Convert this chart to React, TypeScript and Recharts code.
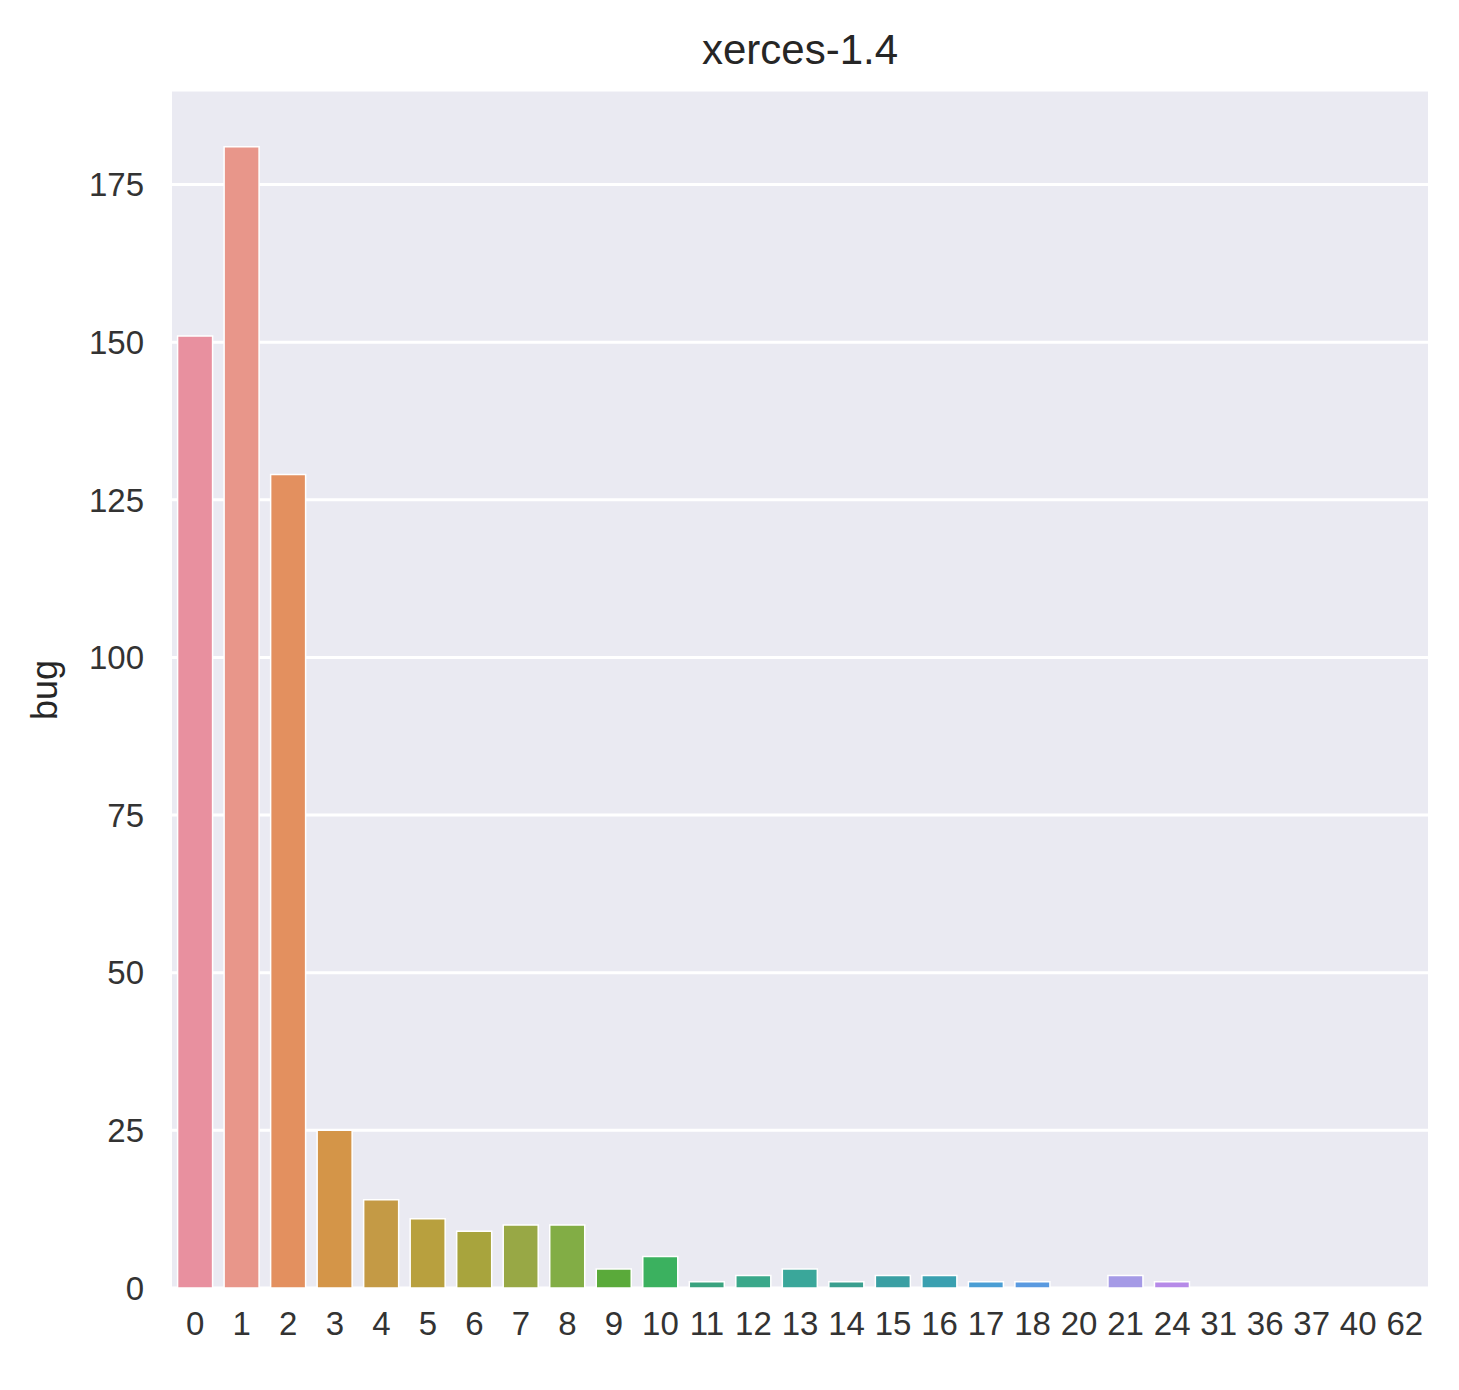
import { BarChart, Bar, Cell, CartesianGrid, XAxis, YAxis } from 'recharts';

const categories = ['0', '1', '2', '3', '4', '5', '6', '7', '8', '9', '10', '11', '12', '13', '14', '15', '16', '17', '18', '20', '21', '24', '31', '36', '37', '40', '62'];
const bugCounts = [151, 181, 129, 25, 14, 11, 9, 10, 10, 3, 5, 1, 2, 3, 1, 2, 2, 1, 1, 0, 2, 1, 0, 0, 0, 0, 0];
const yTicks = [0, 25, 50, 75, 100, 125, 150, 175];

// husl-like palette, desaturated like seaborn bars
const palette = [
    '#e8909f', '#e8968a', '#e3905f', '#d49548', '#c49a45', '#b8a03e', '#a8a43d', '#98a845', '#82ad45',
    '#5aaa3a', '#3bb15f', '#3aa37f', '#3aa88a', '#3aa79a', '#3a9f8f', '#3a9fa3', '#3aa0b0', '#4a9ed4',
    '#5a9ae0', '#7f97e0', '#a59ae6', '#b68ae8', '#cf84dc', '#dc80c8', '#e286b6', '#e58aa8', '#e88d9f'
];

const data = categories.map((c, i) => ({ label: c, bug: bugCounts[i] }));

const font = '"Liberation Sans", Arial, sans-serif';

export default function App() {
    return (
        <div style={{ position: 'absolute', left: 0, top: 0, width: 1459, height: 1390, background: '#fff', fontFamily: font }}>
            <div style={{ position: 'absolute', left: 600, width: 400, top: 26, textAlign: 'center', fontSize: 42, color: '#262626' }}>
                xerces-1.4
            </div>
            <div style={{ position: 'absolute', left: 45, top: 690, transform: 'translate(-50%, -50%) rotate(-90deg)', fontSize: 36, color: '#262626' }}>
                bug
            </div>
            <BarChart width={1459} height={1390} data={data}
                margin={{ top: 90, right: 31, left: 0, bottom: 0 }}
                barCategoryGap="12%">
                <CartesianGrid fill="#eaeaf2" stroke="#ffffff" strokeWidth={3} vertical={false} />
                <XAxis dataKey="label" interval={0} axisLine={false} tickLine={false} tickSize={0} tickMargin={24}
                    height={102} tick={{ fontSize: 33, fill: '#333', fontFamily: font }} />
                <YAxis domain={[0, 190]} ticks={yTicks} axisLine={false} tickLine={false} tickSize={0} tickMargin={28}
                    width={172} tick={{ fontSize: 33, fill: '#333', fontFamily: font }} />
                <Bar dataKey="bug" isAnimationActive={false} stroke="#ffffff" strokeWidth={1.5}>
                    {data.map((d, i) => <Cell key={d.label} fill={palette[i]} />)}
                </Bar>
            </BarChart>
        </div>
    )
}
